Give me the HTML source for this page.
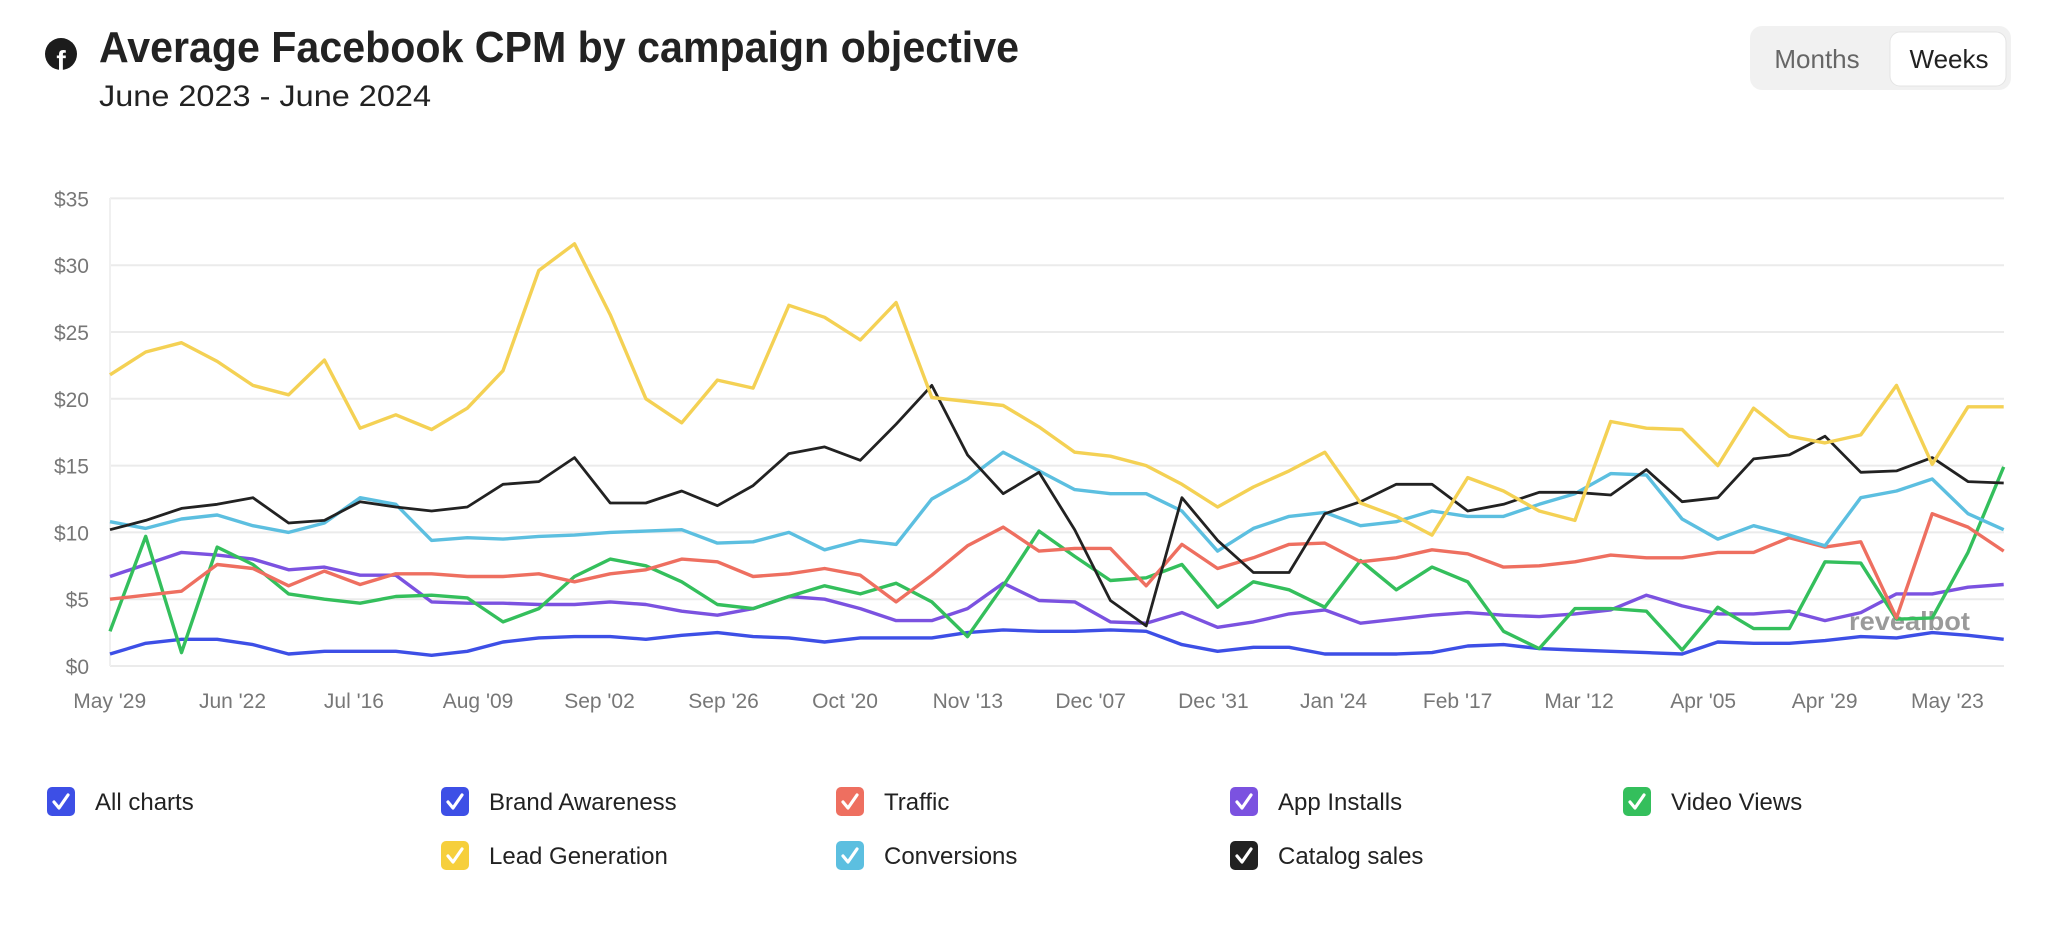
<!DOCTYPE html>
<html><head><meta charset="utf-8"><style>
html,body{margin:0;padding:0;background:#fff;}
svg{display:block;font-family:"Liberation Sans",sans-serif;}
</style></head><body>
<svg id="s" width="2048" height="928" viewBox="0 0 2048 928" xmlns="http://www.w3.org/2000/svg">
<rect width="2048" height="928" fill="#fff"/>
<circle cx="61" cy="54" r="16" fill="#1c1c1c"/>
<text x="61" y="70" font-size="28" font-weight="bold" fill="#fff" text-anchor="middle">f</text>
<text x="99" y="62" font-size="44" font-weight="bold" fill="#222" textLength="920" lengthAdjust="spacingAndGlyphs">Average Facebook CPM by campaign objective</text>
<text x="99" y="106" font-size="30" fill="#222" textLength="332" lengthAdjust="spacingAndGlyphs">June 2023 - June 2024</text>
<rect x="1750" y="26" width="261" height="64" rx="12" fill="#f1f1f1"/>
<rect x="1890" y="32" width="116" height="54" rx="10" fill="#fff" stroke="#e4e4e4"/>
<text x="1817" y="68" font-size="26" fill="#666" text-anchor="middle">Months</text>
<text x="1949" y="68" font-size="26" fill="#222" text-anchor="middle">Weeks</text>
<g id="grid"></g>
<text x="1849" y="630" font-size="26" font-weight="bold" fill="#9a9a9a" textLength="121" lengthAdjust="spacingAndGlyphs">revealbot</text>
<g id="lines" fill="none" stroke-width="3.2" stroke-linejoin="round"></g>
<g id="legend"></g>
</svg>
<script>
var NS="http://www.w3.org/2000/svg";
function el(p,t,a,txt){var e=document.createElementNS(NS,t);for(var k in a)e.setAttribute(k,a[k]);if(txt!==undefined)e.textContent=txt;p.appendChild(e);return e;}
var g=document.getElementById('grid');
var y0=666,dy=66.8/5,x0=110,dx=35.73;
for(var v=0;v<=35;v+=5){var y=y0-v*dy;el(g,'line',{x1:x0,x2:2004,y1:y,y2:y,stroke:'#ebebeb','stroke-width':2});
el(g,'text',{x:89,y:y+8,'font-size':21,fill:'#777','text-anchor':'end'},'$'+v);}
el(g,'line',{x1:x0,x2:x0,y1:198,y2:666,stroke:'#f0f0f0','stroke-width':2});
var xl=["May '29","Jun '22","Jul '16","Aug '09","Sep '02","Sep '26","Oct '20","Nov '13","Dec '07","Dec '31","Jan '24","Feb '17","Mar '12","Apr '05","Apr '29","May '23"];
var xd=[84,178,271,366,459,554,647,741,835,929,1021,1116,1209,1304,1397,1491];
for(var i=0;i<xl.length;i++)el(g,'text',{x:xd[i]*2048/1568,y:708,'font-size':21,fill:'#777','text-anchor':'middle'},xl[i]);
var S=[
['#3d4fe6',[0.9,1.7,2.0,2.0,1.6,0.9,1.1,1.1,1.1,0.8,1.1,1.8,2.1,2.2,2.2,2.0,2.3,2.5,2.2,2.1,1.8,2.1,2.1,2.1,2.5,2.7,2.6,2.6,2.7,2.6,1.6,1.1,1.4,1.4,0.9,0.9,0.9,1.0,1.5,1.6,1.3,1.2,1.1,1.0,0.9,1.8,1.7,1.7,1.9,2.2,2.1,2.5,2.3,2.0]],
['#7b52e0',[6.7,7.6,8.5,8.3,8.0,7.2,7.4,6.8,6.8,4.8,4.7,4.7,4.6,4.6,4.8,4.6,4.1,3.8,4.3,5.2,5.0,4.3,3.4,3.4,4.3,6.2,4.9,4.8,3.3,3.2,4.0,2.9,3.3,3.9,4.2,3.2,3.5,3.8,4.0,3.8,3.7,3.9,4.2,5.3,4.5,3.9,3.9,4.1,3.4,4.0,5.4,5.4,5.9,6.1]],
['#34bf5c',[2.6,9.7,1.0,8.9,7.6,5.4,5.0,4.7,5.2,5.3,5.1,3.3,4.3,6.7,8.0,7.5,6.3,4.6,4.3,5.2,6.0,5.4,6.2,4.8,2.2,6.0,10.1,8.2,6.4,6.6,7.6,4.4,6.3,5.7,4.4,7.9,5.7,7.4,6.3,2.6,1.3,4.3,4.3,4.1,1.2,4.4,2.8,2.8,7.8,7.7,3.5,3.6,8.5,14.9]],
['#ee6f60',[5.0,5.3,5.6,7.6,7.3,6.0,7.1,6.1,6.9,6.9,6.7,6.7,6.9,6.3,6.9,7.2,8.0,7.8,6.7,6.9,7.3,6.8,4.8,6.8,9.0,10.4,8.6,8.8,8.8,6.0,9.1,7.3,8.1,9.1,9.2,7.8,8.1,8.7,8.4,7.4,7.5,7.8,8.3,8.1,8.1,8.5,8.5,9.6,8.9,9.3,3.6,11.4,10.4,8.6]],
['#5cbfe0',[10.8,10.3,11.0,11.3,10.5,10.0,10.7,12.6,12.1,9.4,9.6,9.5,9.7,9.8,10.0,10.1,10.2,9.2,9.3,10.0,8.7,9.4,9.1,12.5,14.0,16.0,14.6,13.2,12.9,12.9,11.6,8.6,10.3,11.2,11.5,10.5,10.8,11.6,11.2,11.2,12.1,12.9,14.4,14.3,11.0,9.5,10.5,9.8,9.0,12.6,13.1,14.0,11.4,10.2]],
['#222222',[10.2,10.9,11.8,12.1,12.6,10.7,10.9,12.3,11.9,11.6,11.9,13.6,13.8,15.6,12.2,12.2,13.1,12.0,13.5,15.9,16.4,15.4,18.1,21.0,15.8,12.9,14.5,10.2,4.9,3.0,12.6,9.4,7.0,7.0,11.4,12.3,13.6,13.6,11.6,12.1,13.0,13.0,12.8,14.7,12.3,12.6,15.5,15.8,17.2,14.5,14.6,15.6,13.8,13.7]],
['#f4d154',[21.8,23.5,24.2,22.8,21.0,20.3,22.9,17.8,18.8,17.7,19.3,22.1,29.6,31.6,26.3,20.0,18.2,21.4,20.8,27.0,26.1,24.4,27.2,20.1,19.8,19.5,17.9,16.0,15.7,15.0,13.6,11.9,13.4,14.6,16.0,12.2,11.2,9.8,14.1,13.1,11.6,10.9,18.3,17.8,17.7,15.0,19.3,17.2,16.7,17.3,21.0,15.1,19.4,19.4]]
];
var L=document.getElementById('lines');
S.forEach(function(s){var p=s[1].map(function(v,i){return (x0+i*dx).toFixed(1)+','+(y0-v*dy).toFixed(1);}).join(' ');
el(L,'polyline',{points:p,stroke:s[0],'stroke-width':s[0]=='#222222'?2.8:3.4});});
var lg=document.getElementById('legend');
var items=[['All charts','#3d4fe6',47,801],['Brand Awareness','#3d4fe6',441,801],['Traffic','#ee6f60',836,801],['App Installs','#7b52e0',1230,801],['Video Views','#34bf5c',1623,801],['Lead Generation','#f6cf3c',441,855],['Conversions','#5cbfe0',836,855],['Catalog sales','#222222',1230,855]];
items.forEach(function(it){var x=it[2],y=it[3];
el(lg,'rect',{x:x,y:y-14,width:28,height:29,rx:5,fill:it[1]});
el(lg,'path',{d:'M'+(x+7)+' '+(y+1)+' L'+(x+12)+' '+(y+7)+' L'+(x+21)+' '+(y-6),stroke:'#fff','stroke-width':3.2,fill:'none','stroke-linecap':'round','stroke-linejoin':'round'});
el(lg,'text',{x:x+48,y:y+9,'font-size':24,fill:'#222'},it[0]);});
</script>
</body></html>
